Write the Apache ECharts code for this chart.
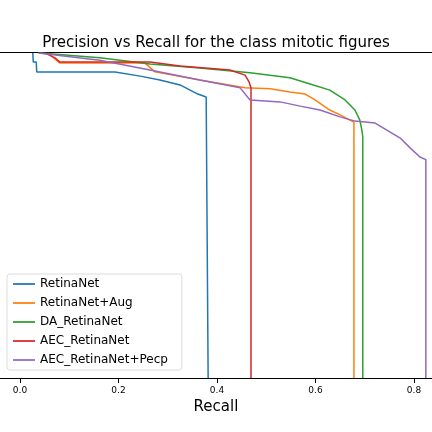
<!DOCTYPE html>
<html>
<head>
<meta charset="utf-8">
<script src="https://cdn.jsdelivr.net/npm/echarts@6/dist/echarts.min.js"></script>
<style>html,body{margin:0;padding:0;background:#fff;}#main{width:432px;height:432px;}</style>
</head>
<body>
<div id="main"></div>
<script>
var seriesNames = ['RetinaNet', 'RetinaNet+Aug', 'DA_RetinaNet', 'AEC_RetinaNet', 'AEC_RetinaNet+Pecp'];
var colors = ['#1f77b4', '#ff7f0e', '#2ca02c', '#d62728', '#9467bd'];
var xTicks = [0, 0.2, 0.4, 0.6, 0.8];

// [recall, precision]
var retinaNet = [[0.026,0.997],[0.027,0.969],[0.033,0.969],[0.034,0.939],[0.193,0.939],[0.244,0.926],[0.284,0.914],[0.325,0.899],[0.361,0.871],[0.378,0.862],[0.382,0.862],[0.382,0]];
var retinaNetAug = [[0.057,0.997],[0.081,0.966],[0.254,0.966],[0.274,0.939],[0.365,0.914],[0.457,0.890],[0.508,0.887],[0.548,0.877],[0.579,0.871],[0.599,0.853],[0.629,0.822],[0.650,0.807],[0.670,0.791],[0.678,0.785],[0.678,0]];
var daRetinaNet = [[0.041,0.997],[0.162,0.982],[0.264,0.963],[0.365,0.951],[0.467,0.936],[0.548,0.921],[0.589,0.902],[0.629,0.883],[0.660,0.853],[0.680,0.822],[0.690,0.791],[0.694,0.761],[0.696,0.740],[0.696,0]];
var aecRetinaNet = [[0.051,0.997],[0.071,0.982],[0.081,0.969],[0.264,0.969],[0.325,0.957],[0.426,0.945],[0.457,0.929],[0.465,0.908],[0.469,0.890],[0.469,0]];
var aecRetinaNetPecp = [[0.037,0.997],[0.162,0.975],[0.264,0.945],[0.365,0.914],[0.447,0.890],[0.467,0.853],[0.528,0.847],[0.569,0.834],[0.609,0.822],[0.650,0.801],[0.680,0.788],[0.721,0.782],[0.772,0.736],[0.792,0.706],[0.812,0.678],[0.824,0.670],[0.824,0]];
var allData = [retinaNet, retinaNetAug, daRetinaNet, aecRetinaNet, aecRetinaNetPecp];

var myChart = echarts.init(document.getElementById('main'));
var option = {
  animation: false,
  title: {
    text: 'Precision vs Recall for the class mitotic figures',
    left: 'center', top: 31,
    textStyle: { fontFamily: 'DejaVu Sans', fontSize: 15, fontWeight: 'normal', color: '#000' }
  },
  legend: {
    orient: 'vertical', left: 7, top: 274,
    data: seriesNames, icon: 'path://M0,0H1V0.08H0Z',
    itemWidth: 22, itemHeight: 12, itemGap: 7,
    backgroundColor: '#fff', borderColor: '#ddd', borderWidth: 1, borderRadius: 3,
    padding: [4, 14, 4, 6],
    textStyle: { fontFamily: 'DejaVu Sans', fontSize: 12, color: '#000' }
  },
  grid: { left: 0, right: 0, top: 52, bottom: 54 },
  xAxis: [{
    type: 'value', min: -0.0406, max: 0.8365,
    name: 'Recall', nameLocation: 'middle', nameGap: 21,
    nameTextStyle: { fontFamily: 'DejaVu Sans', fontSize: 15, color: '#000' },
    axisLine: { lineStyle: { color: '#000' } },
    axisTick: { show: true, customValues: xTicks, lineStyle: { color: '#000' } },
    axisLabel: { customValues: xTicks, fontFamily: 'DejaVu Sans', fontSize: 9, color: '#000',
      formatter: function (v) { return v.toFixed(1); } },
    splitLine: { show: false }
  }, {
    type: 'value', position: 'top', min: -0.0406, max: 0.8365,
    axisLine: { show: true, onZero: false, lineStyle: { color: '#000' } },
    axisTick: { show: false }, axisLabel: { show: false }, splitLine: { show: false }
  }],
  yAxis: {
    type: 'value', min: 0, max: 1,
    axisLine: { show: false }, axisTick: { show: false }, axisLabel: { show: false },
    splitLine: { show: false }
  },
  series: []
};
allData.forEach(function (d, i) {
  option.series.push({
    name: seriesNames[i], type: 'line', data: d,
    showSymbol: false, color: colors[i], lineStyle: { width: 1.5 }
  });
});
myChart.setOption(option);
</script>
</body>
</html>
